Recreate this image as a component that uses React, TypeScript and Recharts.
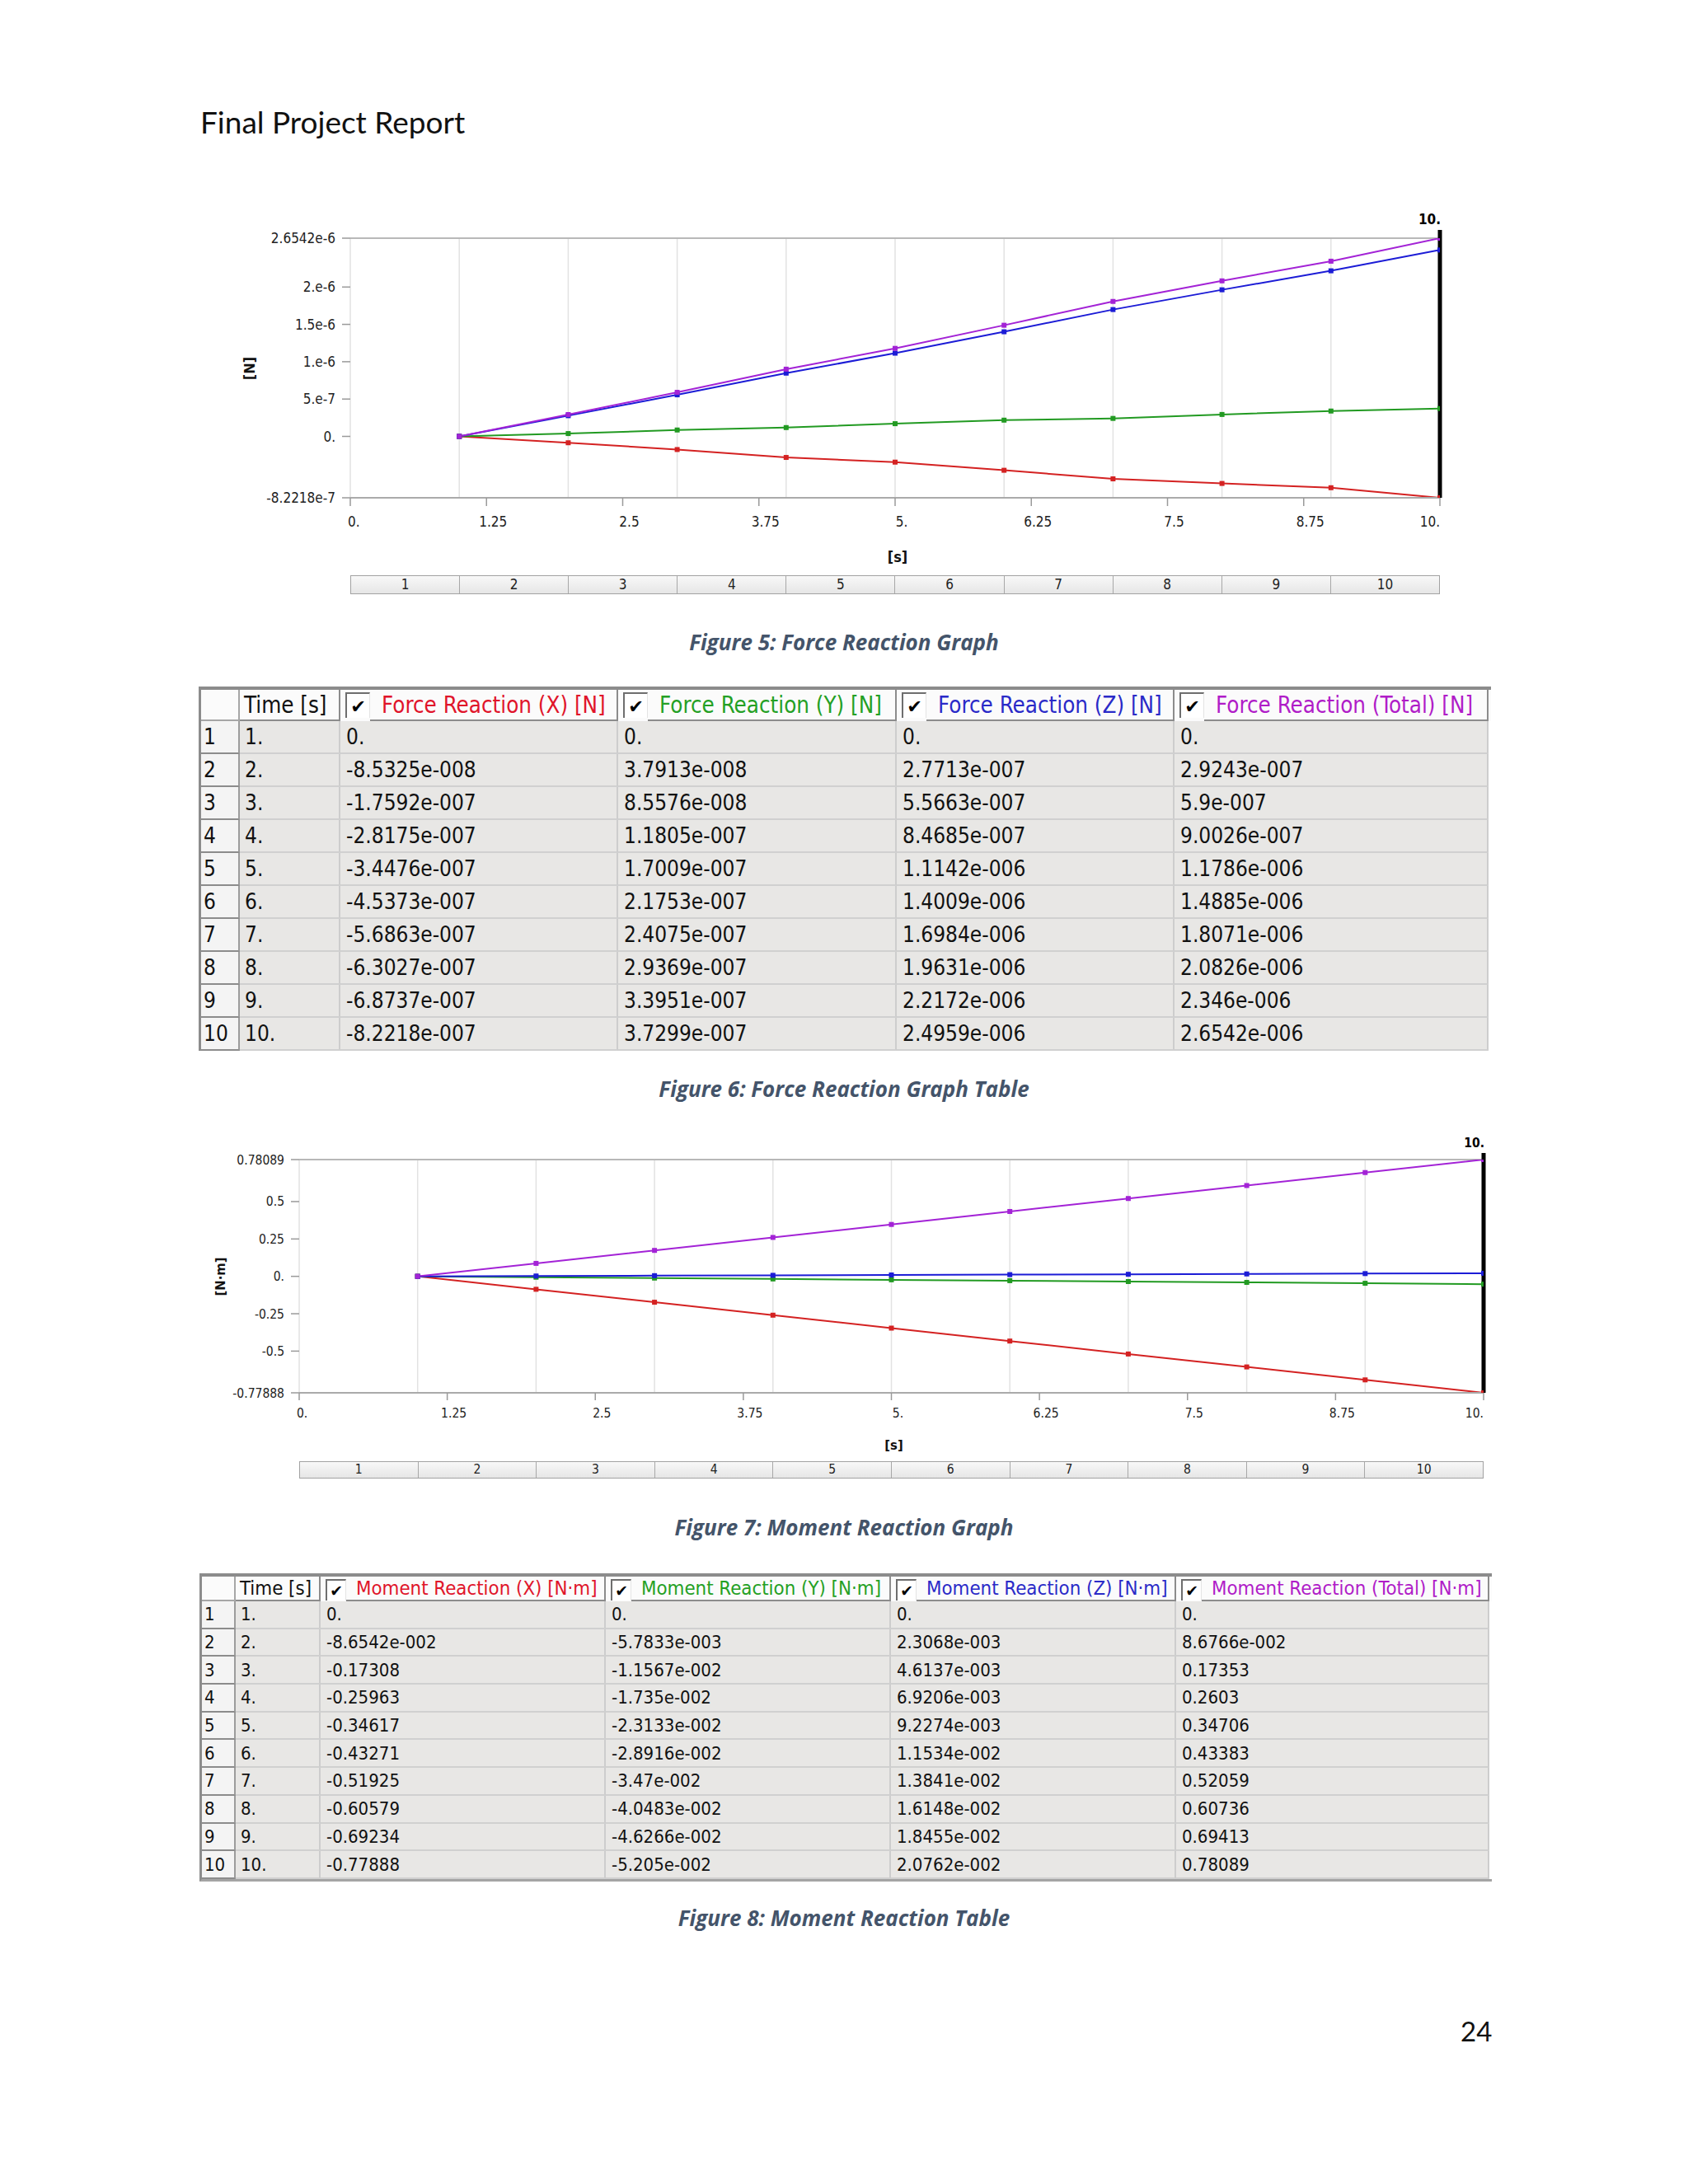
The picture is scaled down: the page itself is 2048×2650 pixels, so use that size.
import React from 'react';
import { LineChart, Line, XAxis, YAxis, ReferenceLine } from 'recharts';

// values as printed in the result tables (the charts parse them)
const times = ['1.', '2.', '3.', '4.', '5.', '6.', '7.', '8.', '9.', '10.'];

const forceX = ['0.', '-8.5325e-008', '-1.7592e-007', '-2.8175e-007', '-3.4476e-007', '-4.5373e-007', '-5.6863e-007', '-6.3027e-007', '-6.8737e-007', '-8.2218e-007'];
const forceY = ['0.', '3.7913e-008', '8.5576e-008', '1.1805e-007', '1.7009e-007', '2.1753e-007', '2.4075e-007', '2.9369e-007', '3.3951e-007', '3.7299e-007'];
const forceZ = ['0.', '2.7713e-007', '5.5663e-007', '8.4685e-007', '1.1142e-006', '1.4009e-006', '1.6984e-006', '1.9631e-006', '2.2172e-006', '2.4959e-006'];
const forceTotal = ['0.', '2.9243e-007', '5.9e-007', '9.0026e-007', '1.1786e-006', '1.4885e-006', '1.8071e-006', '2.0826e-006', '2.346e-006', '2.6542e-006'];

const momentX = ['0.', '-8.6542e-002', '-0.17308', '-0.25963', '-0.34617', '-0.43271', '-0.51925', '-0.60579', '-0.69234', '-0.77888'];
const momentY = ['0.', '-5.7833e-003', '-1.1567e-002', '-1.735e-002', '-2.3133e-002', '-2.8916e-002', '-3.47e-002', '-4.0483e-002', '-4.6266e-002', '-5.205e-002'];
const momentZ = ['0.', '2.3068e-003', '4.6137e-003', '6.9206e-003', '9.2274e-003', '1.1534e-002', '1.3841e-002', '1.6148e-002', '1.8455e-002', '2.0762e-002'];
const momentTotal = ['0.', '8.6766e-002', '0.17353', '0.2603', '0.34706', '0.43383', '0.52059', '0.60736', '0.69413', '0.78089'];

const xTicks = [0, 1.25, 2.5, 3.75, 5, 6.25, 7.5, 8.75, 10];
const xTickLabels = ['0.', '1.25', '2.5', '3.75', '5.', '6.25', '7.5', '8.75', '10.'];

const forceYTicks = [-8.2218e-7, 0, 5e-7, 1e-6, 1.5e-6, 2e-6, 2.6542e-6];
const forceYTickLabels = ['-8.2218e-7', '0.', '5.e-7', '1.e-6', '1.5e-6', '2.e-6', '2.6542e-6'];

const momentYTicks = [-0.77888, -0.5, -0.25, 0, 0.25, 0.5, 0.78089];
const momentYTickLabels = ['-0.77888', '-0.5', '-0.25', '0.', '0.25', '0.5', '0.78089'];

const forceHeaders = ['Force Reaction (X) [N]', 'Force Reaction (Y) [N]', 'Force Reaction (Z) [N]', 'Force Reaction (Total) [N]'];
const momentHeaders = ['Moment Reaction (X) [N·m]', 'Moment Reaction (Y) [N·m]', 'Moment Reaction (Z) [N·m]', 'Moment Reaction (Total) [N·m]'];

const CHART_FONT = '"DejaVu Sans Condensed", "DejaVu Sans", sans-serif';
const DOC_FONT = 'Lato, "Open Sans", sans-serif';
const CAPTION_FONT = '"Open Sans", Lato, sans-serif';

const lineColors = ['#d42222', '#229a22', '#1c1cd6', '#a323d6'];
const headerColors = ['#e0142a', '#24a024', '#2a2ac8', '#b01cc8'];
const keys = ['x', 'y', 'z', 'total'];

type Row = { t: number; x: number; y: number; z: number; total: number };

const buildRows = (xs: string[], ys: string[], zs: string[], tots: string[]): Row[] =>
  times.map((t, i) => ({
    t: parseFloat(t),
    x: parseFloat(xs[i]),
    y: parseFloat(ys[i]),
    z: parseFloat(zs[i]),
    total: parseFloat(tots[i]),
  }));

const forceRows = buildRows(forceX, forceY, forceZ, forceTotal);
const momentRows = buildRows(momentX, momentY, momentZ, momentTotal);

const MARGIN_RIGHT = 20;
const X_AXIS_H = 40;

const squareDot = (color: string) => (props: any) => (
  <rect key={`d-${props.index}`} x={props.cx - 3} y={props.cy - 3} width={6} height={6} fill={color} />
);

interface ChartProps {
  left: number;
  top: number;
  width: number;
  height: number;
  marginTop: number;
  axisWidth: number;
  data: Row[];
  yTicks: number[];
  yTickLabels: string[];
  unit: string;
  fontSize: number;
  xTickSize: number;
  xTickMargin: number;
  overshoot: number;
  unitX: number;
  sLabelY: number;
  stripTop: number;
  stripHeight: number;
}

const ReactionChart = (p: ChartProps) => {
  const plotWidth = p.width - p.axisWidth - MARGIN_RIGHT;
  const plotHeight = p.height - p.marginTop - X_AXIS_H;
  const yMin = p.yTicks[0];
  const yMax = p.yTicks[p.yTicks.length - 1];
  const lastT = p.data[p.data.length - 1].t;
  const gridTimes = [0, ...p.data.map((d) => d.t).slice(0, -1)];

  const renderXTick = (props: any) => {
    const i = xTicks.indexOf(props.payload.value);
    const anchor = i === 0 ? 'start' : i === xTicks.length - 1 ? 'end' : 'middle';
    const dx = i === 0 ? -3 : anchor === 'middle' ? 8 : 0;
    return (
      <text x={props.x + dx} y={props.y} dy="0.71em" textAnchor={anchor} fill="#222" fontSize={p.fontSize} fontFamily={CHART_FONT}>
        {xTickLabels[i]}
      </text>
    );
  };

  return (
    <div style={{ position: 'absolute', left: p.left, top: p.top, width: p.width, height: p.height }}>
      <LineChart width={p.width} height={p.height} data={p.data} margin={{ top: p.marginTop, right: MARGIN_RIGHT, bottom: 0, left: 0 }}>
        <XAxis
          type="number"
          dataKey="t"
          domain={[0, lastT]}
          ticks={xTicks}
          interval={0}
          allowDataOverflow
          height={X_AXIS_H}
          axisLine={{ stroke: '#aaaaaa', strokeWidth: 2 }}
          tickLine={{ stroke: '#9a9a9a', strokeWidth: 1.5 }}
          tickSize={p.xTickSize}
          tickMargin={p.xTickMargin}
          tick={renderXTick}
        />
        <YAxis
          type="number"
          domain={[yMin, yMax]}
          ticks={p.yTicks}
          interval={0}
          allowDataOverflow
          width={p.axisWidth}
          axisLine={false}
          tickLine={{ stroke: '#9a9a9a', strokeWidth: 1.5 }}
          tickSize={10}
          tickMargin={8}
          tickFormatter={(v: number) => p.yTickLabels[p.yTicks.indexOf(v)] ?? ''}
          tick={{ fill: '#222', fontSize: p.fontSize, fontFamily: CHART_FONT }}
        />
        {gridTimes.map((t) => (
          <ReferenceLine key={`g${t}`} x={t} stroke="#e2e2e2" strokeWidth={1.5} />
        ))}
        <ReferenceLine y={yMax} stroke="#b8b8b8" strokeWidth={2} />
        <ReferenceLine
          segment={[{ x: lastT, y: yMin }, { x: lastT, y: yMax + (yMax - yMin) * p.overshoot }]}
          ifOverflow="visible"
          stroke="#000"
          strokeWidth={5}
          label={(lp: any) => (
            <text x={lp.viewBox.x + 1} y={lp.viewBox.y - 7} textAnchor="end" fontWeight="bold" fontSize={p.fontSize} fontFamily={CHART_FONT} fill="#000">
              {times[times.length - 1]}
            </text>
          )}
        />
        {keys.map((k, i) => (
          <Line
            key={k}
            type="linear"
            dataKey={k}
            stroke={lineColors[i]}
            strokeWidth={2}
            dot={squareDot(lineColors[i])}
            activeDot={false}
            isAnimationActive={false}
          />
        ))}
      </LineChart>
      <div
        style={{
          position: 'absolute',
          left: p.unitX,
          top: p.marginTop + plotHeight / 2,
          transform: 'translate(-50%, -50%) rotate(-90deg)',
          fontFamily: CHART_FONT,
          fontWeight: 'bold',
          fontSize: p.fontSize + 1,
          whiteSpace: 'nowrap',
          color: '#111',
        }}
      >
        {p.unit}
      </div>
      <div
        style={{
          position: 'absolute',
          left: p.axisWidth + plotWidth / 2 + 3,
          top: p.sLabelY,
          transform: 'translate(-50%, -50%)',
          fontFamily: CHART_FONT,
          fontWeight: 'bold',
          fontSize: p.fontSize + 1,
          color: '#111',
        }}
      >
        [s]
      </div>
      <div
        style={{
          position: 'absolute',
          left: p.axisWidth,
          top: p.stripTop,
          width: plotWidth,
          height: p.stripHeight,
          display: 'flex',
          boxSizing: 'border-box',
          border: '1.5px solid #a2a2a2',
          background: 'linear-gradient(#f8f8f8, #e6e6e6)',
          fontFamily: CHART_FONT,
          fontSize: p.fontSize,
          color: '#222',
        }}
      >
        {times.map((t, i) => (
          <div
            key={t}
            style={{
              flex: 1,
              borderLeft: i ? '1.5px solid #a8a8a8' : 'none',
              textAlign: 'center',
              lineHeight: `${p.stripHeight - 3}px`,
            }}
          >
            {i + 1}
          </div>
        ))}
      </div>
    </div>
  );
};

interface TableProps {
  left: number;
  top: number;
  colWidths: number[];
  headerHeight: number;
  rowHeight: number;
  headerFontSize: number;
  dataFontSize: number;
  headers: string[];
  columns: string[][];
  boxW: number;
  boxH: number;
  textGap: number;
  bottomBorder: boolean;
}

const DataTable = (p: TableProps) => {
  const total = p.colWidths.reduce((a, b) => a + b, 0);
  const cell = (w: number): React.CSSProperties => ({
    width: w,
    flex: 'none',
    boxSizing: 'border-box',
    display: 'flex',
    alignItems: 'center',
    overflow: 'hidden',
    whiteSpace: 'nowrap',
  });
  return (
    <div
      style={{
        position: 'absolute',
        left: p.left,
        top: p.top,
        width: total,
        borderTop: '4px solid #8c8c8c',
        borderLeft: '3px solid #8c8c8c',
        borderBottom: p.bottomBorder ? '3px solid #a4a4a4' : 'none',
        fontFamily: CHART_FONT,
        color: '#111',
      }}
    >
      <div style={{ display: 'flex', height: p.headerHeight, background: '#fbfbfb' }}>
        <div style={{ ...cell(p.colWidths[0] - 3), borderRight: '2px solid #a6a6a6', borderBottom: '2px solid #a6a6a6' }} />
        <div style={{ ...cell(p.colWidths[1]), borderRight: '2px solid #8c8c8c', alignItems: 'stretch' }}>
          <div
            style={{
              flex: 1,
              display: 'flex',
              alignItems: 'center',
              paddingLeft: 5,
              borderBottom: '2px solid #8c8c8c',
              fontSize: p.headerFontSize,
            }}
          >
            Time [s]
          </div>
        </div>
        {p.headers.map((h, i) => (
          <div key={h} style={{ ...cell(p.colWidths[i + 2]), borderRight: '2px solid #8c8c8c', alignItems: 'stretch', paddingLeft: 6 }}>
            <div
              style={{
                width: p.boxW,
                height: p.boxH,
                marginTop: 3,
                boxSizing: 'border-box',
                borderTop: '2px solid #6e6e6e',
                borderLeft: '2px solid #6e6e6e',
                borderRight: '1px solid #e4e4e4',
                background: '#fff',
                display: 'flex',
                alignItems: 'center',
                justifyContent: 'center',
                fontSize: p.boxH * 0.72,
                fontWeight: 'bold',
                color: '#000',
                fontFamily: '"DejaVu Sans", sans-serif',
              }}
            >
              ✔
            </div>
            <div
              style={{
                flex: 1,
                display: 'flex',
                alignItems: 'center',
                paddingLeft: p.textGap,
                borderBottom: '2px solid #8c8c8c',
                fontSize: p.headerFontSize,
                color: headerColors[i],
              }}
            >
              {h}
            </div>
          </div>
        ))}
      </div>
      {times.map((t, r) => (
        <div key={t} style={{ display: 'flex', height: p.rowHeight, fontSize: p.dataFontSize }}>
          <div
            style={{
              ...cell(p.colWidths[0] - 3),
              background: '#f4f4f4',
              borderRight: '2px solid #9c9c9c',
              borderBottom: '2px solid #8c8c8c',
              paddingLeft: 3,
            }}
          >
            {r + 1}
          </div>
          {[times, ...p.columns].map((col, c) => (
            <div
              key={c}
              style={{
                ...cell(p.colWidths[c + 1]),
                background: '#e8e7e5',
                borderRight: '2px solid #cdcdcd',
                borderBottom: '2px solid #d0d0d0',
                paddingLeft: c === 0 ? 6 : 7,
              }}
            >
              {col[r]}
            </div>
          ))}
        </div>
      ))}
    </div>
  );
};

const captionStyle = {
  fontFamily: CAPTION_FONT,
  fontWeight: 'bold' as const,
  fontStyle: 'italic' as const,
  fontSize: 26,
  fill: '#44546a',
};

export default function App() {
  return (
    <div style={{ position: 'absolute', left: 0, top: 0, width: 2048, height: 2650, background: '#fff', overflow: 'hidden' }}>
      <svg width={2048} height={2650} style={{ position: 'absolute', left: 0, top: 0 }}>
        <text x={243} y={162} fontFamily={DOC_FONT} fontSize={37} fill="#111">
          Final Project Report
        </text>
        <text x={1024} y={789} textAnchor="middle" {...captionStyle}>
          Figure 5: Force Reaction Graph
        </text>
        <text x={1024} y={1331} textAnchor="middle" {...captionStyle}>
          Figure 6: Force Reaction Graph Table
        </text>
        <text x={1024} y={1863} textAnchor="middle" {...captionStyle}>
          Figure 7: Moment Reaction Graph
        </text>
        <text x={1024} y={2337} textAnchor="middle" {...captionStyle}>
          Figure 8: Moment Reaction Table
        </text>
        <text x={1772} y={2477} fontFamily={DOC_FONT} fontSize={33} fill="#111">
          24
        </text>
      </svg>

      <ReactionChart
        left={250}
        top={250}
        width={1517}
        height={394}
        marginTop={39}
        axisWidth={175}
        data={forceRows}
        yTicks={forceYTicks}
        yTickLabels={forceYTickLabels}
        unit="[N]"
        fontSize={17}
        xTickSize={10}
        xTickMargin={13}
        overshoot={0.032}
        unitX={52}
        sLabelY={425}
        stripTop={448}
        stripHeight={23}
      />

      <DataTable
        left={241}
        top={833}
        colWidths={[50, 122, 337, 338, 337, 381]}
        headerHeight={38}
        rowHeight={40}
        headerFontSize={27.5}
        dataFontSize={26}
        headers={forceHeaders}
        columns={[forceX, forceY, forceZ, forceTotal]}
        boxW={30}
        boxH={31}
        textGap={14}
        bottomBorder={false}
      />

      <ReactionChart
        left={200}
        top={1360}
        width={1620}
        height={370}
        marginTop={47}
        axisWidth={163}
        data={momentRows}
        yTicks={momentYTicks}
        yTickLabels={momentYTickLabels}
        unit="[N·m]"
        fontSize={15.5}
        xTickSize={9}
        xTickMargin={10}
        overshoot={0.028}
        unitX={67}
        sLabelY={393}
        stripTop={413}
        stripHeight={21}
      />

      <DataTable
        left={242}
        top={1909}
        colWidths={[44, 103, 346, 346, 346, 380]}
        headerHeight={30}
        rowHeight={33.7}
        headerFontSize={23.8}
        dataFontSize={22}
        headers={momentHeaders}
        columns={[momentX, momentY, momentZ, momentTotal]}
        boxW={25}
        boxH={26}
        textGap={12}
        bottomBorder
      />
    </div>
  );
}
